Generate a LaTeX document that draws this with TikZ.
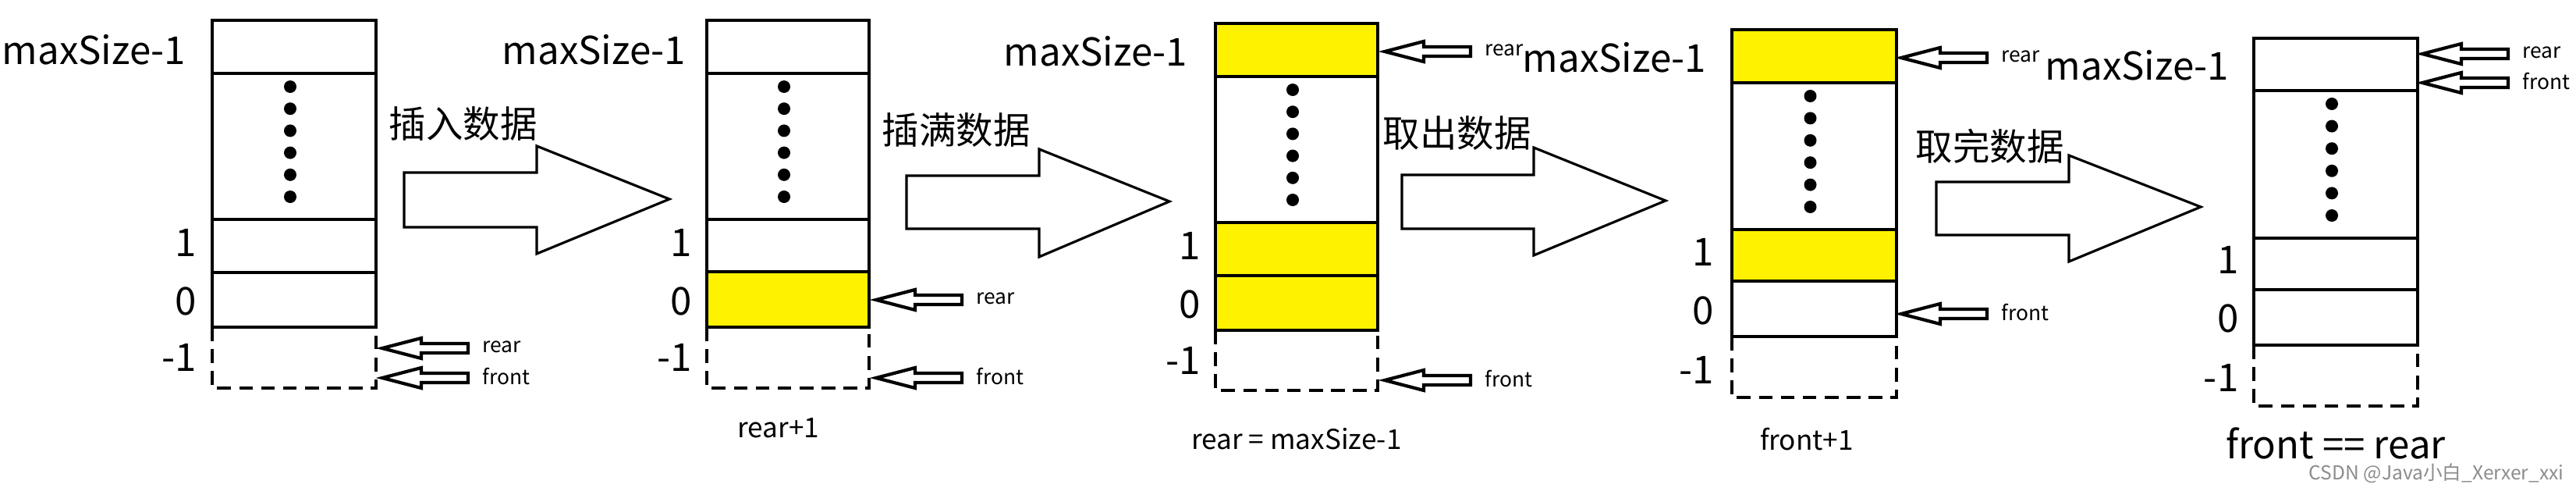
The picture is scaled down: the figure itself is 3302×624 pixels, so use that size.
\documentclass[tikz,border=0pt]{standalone}
\usepackage{fontspec}
\setmainfont{Noto Sans CJK SC}
\definecolor{qyel}{RGB}{255,242,0}
\tikzset{
  cell/.style={line width=1.2pt},
  dcell/.style={line width=1.2pt,dashed,dash pattern=on 5pt off 3pt},
  big/.style={font=\fontsize{14}{16}\selectfont,inner sep=0pt},
  cjk/.style={font=\fontsize{13.5}{15}\selectfont,inner sep=0pt},
  smalltxt/.style={font=\fontsize{7.5}{9}\selectfont,inner sep=0pt,anchor=west},
  capt/.style={font=\fontsize{10}{12}\selectfont,inner sep=0pt},
  hol/.style={line width=1.2pt,fill=white},
  flow/.style={line width=0.9pt,fill=white}
}
\newcommand\qcol[9]{%
  \draw[cell] (#2,#4) rectangle (#3,#8);
  \draw[cell] (#2,#5) -- (#3,#5) (#2,#6) -- (#3,#6) (#2,#7) -- (#3,#7);
  \draw[dcell] (#2,#8) -- (#2,#9) -- (#3,#9) -- (#3,#8);
  \foreach \k in {0,...,5}{\fill ({(#2+#3)/2-5},{#5+17+\k*((#6)-(#5)-46)/5}) circle (8);}
}
\newcommand\ptr[4]{%
  \draw[hol] (#1,#2) -- ++(50,-13) -- ++(0,7) -- ++(60,0) -- ++(0,12) -- ++(-60,0) -- ++(0,7) -- cycle;
  \node[smalltxt] (#3) at (#1+128,#2-2) {#4};
}
\newcommand\bigarr[8]{%
  \draw[flow] (#1,#4) -- (#2,#4) -- (#2,#6) -- (#3,#8) -- (#2,#7) -- (#2,#5) -- (#1,#5) -- cycle;
}
\begin{document}
\begin{tikzpicture}[x=0.01cm,y=-0.01cm]
\useasboundingbox (0,0) rectangle (3302,624);
% yellow fills
\fill[qyel] (906,348) rectangle (1114,419);
\fill[qyel] (1558,30) rectangle (1766,98);
\fill[qyel] (1558,285) rectangle (1766,423);
\fill[qyel] (2220,38) rectangle (2431,106);
\fill[qyel] (2220,294) rectangle (2431,360);
% columns
\qcol{a}{272}{482}{26}{94}{281}{349}{419}{497}
\qcol{b}{906}{1114}{26}{94}{281}{348}{419}{497}
\qcol{c}{1558}{1766}{30}{98}{285}{353}{423}{500}
\qcol{d}{2220}{2431}{38}{106}{294}{360}{431}{509}
\qcol{e}{2889}{3099}{49}{116}{305}{371}{442}{520}
% index labels
\node[big,anchor=east] (m1) at (239,64) {maxSize-1};
\node[big,anchor=east] (a1) at (253,311) {1};
\node[big,anchor=east] (a0) at (253,386) {0};
\node[big,anchor=east] (am) at (253,458) {-1};
\node[big,anchor=east] (m2) at (880,64) {maxSize-1};
\node[big,anchor=east] (b1) at (888,311) {1};
\node[big,anchor=east] (b0) at (888,386) {0};
\node[big,anchor=east] (bm) at (888,458) {-1};
\node[big,anchor=east] (m3) at (1523,66) {maxSize-1};
\node[big,anchor=east] (c1) at (1540,315) {1};
\node[big,anchor=east] (c0) at (1540,390) {0};
\node[big,anchor=east] (cm) at (1540,462) {-1};
\node[big,anchor=east] (m4) at (2188,74) {maxSize-1};
\node[big,anchor=east] (d1) at (2198,323) {1};
\node[big,anchor=east] (d0) at (2198,398) {0};
\node[big,anchor=east] (dm) at (2198,474) {-1};
\node[big,anchor=east] (m5) at (2858,84) {maxSize-1};
\node[big,anchor=east] (e1) at (2870,333) {1};
\node[big,anchor=east] (e0) at (2870,408) {0};
\node[big,anchor=east] (em) at (2870,484) {-1};
% pointers
\ptr{490}{446}{pa1}{rear}
\ptr{490}{484}{pa2}{front}
\ptr{1123}{384}{pb1}{rear}
\ptr{1123}{484}{pb2}{front}
\ptr{1775}{66}{pc1}{rear}
\ptr{1775}{487}{pc2}{front}
\ptr{2437}{74}{pd1}{rear}
\ptr{2437}{402}{pd2}{front}
\ptr{3105}{69}{pe1}{rear}
\ptr{3105}{106}{pe2}{front}
% big arrows
\bigarr{518}{688}{858}{221}{291}{187}{325}{255}
\bigarr{1162}{1332}{1499}{225}{293}{191}{329}{258}
\bigarr{1797}{1966}{2135}{224}{293}{189}{327}{257}
\bigarr{2482}{2652}{2821}{233}{301}{199}{335}{265}
\node[cjk,anchor=west] (t1) at (498,159) {插入数据};
\node[cjk,anchor=west] (t2) at (1130,167) {插满数据};
\node[cjk,anchor=west] (t3) at (1772,171) {取出数据};
\node[cjk,anchor=west] (t4) at (2455,187) {取完数据};
% captions
\node[capt] (k2) at (998,548) {rear+1};
\node[capt] (k3) at (1662,562) {rear = maxSize-1};
\node[capt] (k4) at (2316,562) {front+1};
\node[big] (k5) at (2994,568) {front == rear};
\node[font=\fontsize{7}{8}\selectfont,text=black!45,inner sep=0pt,anchor=east] (wm) at (3287,606) {CSDN @Java小白\_Xerxer\_xxi};
\end{tikzpicture}
\end{document}
